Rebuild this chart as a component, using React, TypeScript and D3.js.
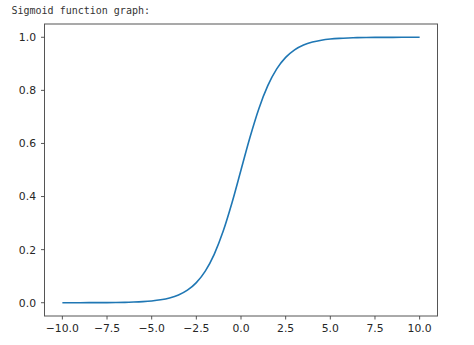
import React from "react";
import * as d3 from "d3";

const xValues: number[] = [
  -10, -9.5, -9, -8.5, -8, -7.5, -7, -6.5, -6, -5.5, -5, -4.5, -4, -3.5, -3, -2.5, -2, -1.5, -1, -0.5,
  0, 0.5, 1, 1.5, 2, 2.5, 3, 3.5, 4, 4.5, 5, 5.5, 6, 6.5, 7, 7.5, 8, 8.5, 9, 9.5, 10,
];
const yValues: number[] = [
  0.0000454, 0.0000749, 0.000123, 0.000203, 0.000335, 0.000553, 0.000911, 0.0015, 0.00247, 0.00407,
  0.00669, 0.011, 0.018, 0.0293, 0.0474, 0.0759, 0.1192, 0.1824, 0.2689, 0.3775,
  0.5, 0.6225, 0.7311, 0.8176, 0.8808, 0.9241, 0.9526, 0.9707, 0.982, 0.989,
  0.99331, 0.99593, 0.99753, 0.9985, 0.999089, 0.999447, 0.999665, 0.999797, 0.999877, 0.999925, 0.9999546,
];
const xTicks: number[] = [-10, -7.5, -5, -2.5, 0, 2.5, 5, 7.5, 10];
const yTicks: number[] = [0, 0.2, 0.4, 0.6, 0.8, 1.0];
const title = "Sigmoid function graph:";

export default function App() {
  const W = 474, H = 345;
  const left = 44.5, right = 437.5, top = 24, bottom = 316;
  const x = d3.scaleLinear().domain([-11, 11]).range([left, right]);
  const y = d3.scaleLinear().domain([-0.05, 1.05]).range([bottom, top]);
  const pts = xValues.map((v, i) => [v, yValues[i]] as [number, number]);
  const line = d3
    .line<[number, number]>()
    .x((d) => x(d[0]))
    .y((d) => y(d[1]))
    .curve(d3.curveMonotoneX);
  const fmt = (v: number) => d3.format(".1f")(v).replace("-", "\u2212");
  const textColor = "#262626";
  const font = "'DejaVu Sans', sans-serif";
  return (
    <svg
      width={W}
      height={H}
      style={{ position: "absolute", left: 0, top: 0, background: "#fff" }}
    >
      <text
        x={11.5}
        y={14}
        fontFamily="'DejaVu Sans Mono', monospace"
        fontSize={10}
        fill="#333"
      >
        {title}
      </text>
      <path d={line(pts) || ""} fill="none" stroke="#1f77b4" strokeWidth={1.6} />
      <rect
        x={left}
        y={top}
        width={right - left}
        height={bottom - top}
        fill="none"
        stroke="#555"
        strokeWidth={1}
      />
      {xTicks.map((t) => (
        <g key={"x" + t}>
          <line x1={x(t)} x2={x(t)} y1={bottom} y2={bottom + 3.5} stroke="#444" strokeWidth={0.9} />
          <text
            x={x(t)}
            y={bottom + 15.5}
            textAnchor="middle"
            fontFamily={font}
            fontSize={10.8}
            fill={textColor}
          >
            {fmt(t)}
          </text>
        </g>
      ))}
      {yTicks.map((t) => (
        <g key={"y" + t}>
          <line x1={left - 3.5} x2={left} y1={y(t)} y2={y(t)} stroke="#444" strokeWidth={0.9} />
          <text
            x={left - 8.5}
            y={y(t)}
            dy="0.36em"
            textAnchor="end"
            fontFamily={font}
            fontSize={10.8}
            fill={textColor}
          >
            {fmt(t)}
          </text>
        </g>
      ))}
    </svg>
  );
}
